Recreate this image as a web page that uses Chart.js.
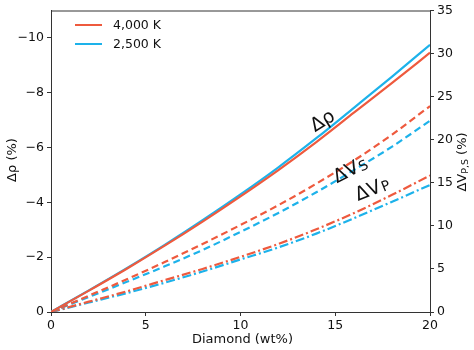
<!DOCTYPE html>
<html>
<head>
<meta charset="utf-8">
<script src="https://cdn.jsdelivr.net/npm/chart.js@4.4.1/dist/chart.umd.min.js"></script>
<style>
html,body{margin:0;padding:0;background:#fff;}
#wrap{width:474px;height:350px;}
</style>
</head>
<body>
<div id="wrap"><canvas id="c" width="474" height="350"></canvas></div>
<script>
// Diamond content (wt%)
const diamond = [0, 2, 4, 6, 8, 10, 12, 14, 16, 18, 20];
// Density change Δρ (%) – left axis
const rho4000 = [0, -0.78, -1.58, -2.42, -3.30, -4.22, -5.18, -6.20, -7.28, -8.36, -9.46];
const rho2500 = [0, -0.79, -1.60, -2.45, -3.35, -4.29, -5.28, -6.34, -7.46, -8.59, -9.75];
// Velocity changes ΔVS, ΔVP (%) – right axis
const vs4000 = [0, 1.9, 3.8, 5.8, 7.9, 10.1, 12.4, 14.9, 17.6, 20.6, 23.9];
const vs2500 = [0, 1.75, 3.5, 5.3, 7.2, 9.3, 11.5, 13.9, 16.5, 19.2, 22.2];
const vp4000 = [0, 1.2, 2.4, 3.7, 5.0, 6.4, 7.9, 9.6, 11.5, 13.6, 15.85];
const vp2500 = [0, 1.1, 2.2, 3.4, 4.7, 6.1, 7.5, 9.1, 10.9, 12.8, 14.75];
// Tick labels
const xTicks = [0, 5, 10, 15, 20];
const rhoTicks = [0, -2, -4, -6, -8, -10];
const vTicks = [0, 5, 10, 15, 20, 25, 30, 35];
const legendLabels = ['4,000 K', '2,500 K'];

const RED = '#ee5a3e', BLUE = '#1db2ea';
const FONT = '"DejaVu Sans", sans-serif';
const pts = arr => arr.map((v, i) => ({x: diamond[i], y: v}));
const minus = v => String(v).replace('-', '\u2212');

function ds(data, color, axis, dash) {
  return {data: pts(data), borderColor: color, backgroundColor: color, borderWidth: 2.2,
    yAxisID: axis, pointRadius: 0, cubicInterpolationMode: 'monotone', borderDash: dash, fill: false};
}

const decor = {
  id: 'decor',
  afterDraw(chart) {
    const {ctx, chartArea: a, scales} = chart;
    ctx.save();
    // frame top border
    ctx.strokeStyle = '#333'; ctx.lineWidth = 1;
    ctx.beginPath(); ctx.moveTo(a.left, a.top + 0.5); ctx.lineTo(a.right, a.top + 0.5); ctx.stroke();
    // legend
    ctx.font = '12.5px ' + FONT; ctx.textBaseline = 'middle'; ctx.fillStyle = '#111';
    [[RED, legendLabels[0], 25], [BLUE, legendLabels[1], 44]].forEach(([c, t, y]) => {
      ctx.strokeStyle = c; ctx.lineWidth = 2;
      ctx.beginPath(); ctx.moveTo(75, y); ctx.lineTo(102, y); ctx.stroke();
      ctx.fillText(t, 113, y + 1);
    });
    // axis titles
    ctx.fillStyle = '#111';
    ctx.font = '13px ' + FONT; ctx.textAlign = 'center';
    ctx.fillText('Diamond (wt%)', (a.left + a.right) / 2 + 2, 340);
    ctx.save(); ctx.translate(13, 160); ctx.rotate(-Math.PI / 2);
    ctx.fillText('\u0394\u03c1 (%)', 0, 0); ctx.restore();
    // right title with subscript
    ctx.save(); ctx.translate(463, 162); ctx.rotate(-Math.PI / 2);
    ctx.textAlign = 'left';
    const f1 = '13px ' + FONT, f2 = '9.5px ' + FONT;
    ctx.font = f1; const w1 = ctx.measureText('\u0394V').width;
    ctx.font = f2; const w2 = ctx.measureText('P,S').width;
    ctx.font = f1; const w3 = ctx.measureText(' (%)').width;
    let x0 = -(w1 + w2 + w3) / 2;
    ctx.font = f1; ctx.fillText('\u0394V', x0, 0);
    ctx.font = f2; ctx.fillText('P,S', x0 + w1, 3);
    ctx.font = f1; ctx.fillText(' (%)', x0 + w1 + w2, 0);
    ctx.restore();
    // curve annotations
    const lab = (main, sub, xv, yv, ang, size) => {
      const px = scales.x.getPixelForValue(xv), py = scales.y.getPixelForValue(yv);
      ctx.save(); ctx.translate(px, py); ctx.rotate(ang * Math.PI / 180);
      ctx.textAlign = 'left'; ctx.textBaseline = 'middle';
      const F1 = size + 'px ' + FONT, F2 = Math.round(size * 0.75) + 'px ' + FONT;
      ctx.font = F1; const m = ctx.measureText(main).width;
      ctx.font = F2; const s = sub ? ctx.measureText(sub).width : 0;
      const x0 = -(m + s) / 2;
      ctx.font = F1; ctx.fillText(main, x0, 0);
      if (sub) { ctx.font = F2; ctx.fillText(sub, x0 + m + 1, size * 0.12); }
      ctx.restore();
    };
    lab('\u0394\u03c1', '', 14.35, -6.95, -32, 19);
    lab('\u0394V', 'S', 15.8, -5.15, -27, 19);
    lab('\u0394V', 'P', 16.95, -4.45, -22, 19);
    ctx.restore();
  }
};

new Chart(document.getElementById('c'), {
  type: 'line',
  data: {datasets: [
    ds(rho4000, RED, 'y', []), ds(rho2500, BLUE, 'y', []),
    ds(vs4000, RED, 'y2', [7, 4]), ds(vs2500, BLUE, 'y2', [7, 4]),
    ds(vp4000, RED, 'y2', [9, 3, 2, 3]), ds(vp2500, BLUE, 'y2', [9, 3, 2, 3])
  ]},
  options: {
    responsive: false, animation: false, devicePixelRatio: 1,
    layout: {padding: {top: 5, left: 0, right: 0, bottom: 0}},
    plugins: {legend: {display: false}, tooltip: {enabled: false}},
    scales: {
      x: {type: 'linear', min: 0, max: 20,
        afterBuildTicks: s => { s.ticks = xTicks.map(v => ({value: v})); },
        afterFit: s => { s.height = 38; },
        border: {color: '#333', width: 1},
        grid: {drawOnChartArea: false, drawTicks: true, tickLength: 4, color: '#333'},
        ticks: {color: '#111', font: {family: FONT, size: 12.5}, padding: 2, maxRotation: 0}},
      y: {type: 'linear', position: 'left', min: -11, max: 0, reverse: true,
        afterBuildTicks: s => { s.ticks = rhoTicks.map(v => ({value: v})); },
        afterFit: s => { s.width = 51; },
        border: {color: '#333', width: 1},
        grid: {drawOnChartArea: false, drawTicks: true, tickLength: 4, color: '#333'},
        ticks: {color: '#111', font: {family: FONT, size: 12.5}, padding: 3, callback: v => minus(v)}},
      y2: {type: 'linear', position: 'right', min: 0, max: 35,
        afterBuildTicks: s => { s.ticks = vTicks.map(v => ({value: v})); },
        afterFit: s => { s.width = 44; },
        border: {color: '#333', width: 1},
        grid: {drawOnChartArea: false, drawTicks: true, tickLength: 4, color: '#333'},
        ticks: {color: '#111', font: {family: FONT, size: 12.5}, padding: 3}}
    }
  },
  plugins: [decor]
});
</script>
</body>
</html>
